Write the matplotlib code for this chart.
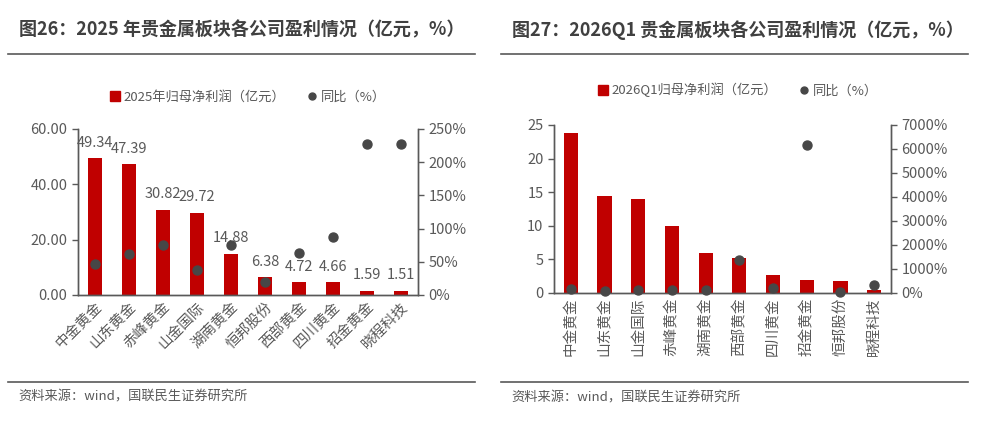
import matplotlib
matplotlib.use("Agg")
import matplotlib.pyplot as plt
from matplotlib.lines import Line2D
from matplotlib.ticker import FuncFormatter, FormatStrFormatter

plt.rcParams['font.family'] = ['Noto Sans CJK SC', 'DejaVu Sans']

# ---- data ----
companies_2025 = ["中金黄金", "山东黄金", "赤峰黄金", "山金国际", "湖南黄金",
                  "恒邦股份", "西部黄金", "四川黄金", "招金黄金", "晓程科技"]
profit_2025 = [49.34, 47.39, 30.82, 29.72, 14.88, 6.38, 4.72, 4.66, 1.59, 1.51]
yoy_2025 = [46, 61, 76, 37, 76, 19, 64, 88, 227, 227]

companies_2026q1 = ["中金黄金", "山东黄金", "山金国际", "赤峰黄金", "湖南黄金",
                    "西部黄金", "四川黄金", "招金黄金", "恒邦股份", "晓程科技"]
profit_2026q1 = [23.8, 14.4, 14.0, 10.0, 5.95, 5.2, 2.68, 1.93, 1.79, 0.45]
yoy_2026q1 = [167, 83, 125, 125, 125, 1360, 194, 6150, 56, 333]

RED = "#C00000"
DOT = "#474747"
TXT = "#595959"
SPINE = "#595959"

W, H = 992, 426
fig = plt.figure(figsize=(W / 100, H / 100), dpi=100)


def fx(px):
    return px / W


def fy(py):
    return 1 - py / H


def hline(x0, x1, y):
    fig.add_artist(Line2D([fx(x0), fx(x1)], [fy(y), fy(y)], color="#595959", lw=1.2,
                          transform=fig.transFigure))


def style_axes(ax, ax2):
    for a in (ax, ax2):
        a.spines['top'].set_visible(False)
        for s in ('left', 'right', 'bottom'):
            a.spines[s].set_color(SPINE)
            a.spines[s].set_linewidth(1.0)
        a.tick_params(colors=TXT, labelsize=10.5, length=4, width=1.0)
    ax.tick_params(axis='y', color=SPINE)
    ax2.tick_params(axis='y', color=SPINE)
    ax.tick_params(axis='x', length=0)
    ax.patch.set_visible(False)


# ---------- Left panel ----------
fig.text(fx(19), fy(30), "图26：2025 年贵金属板块各公司盈利情况（亿元，%）",
         fontsize=13.0, fontweight='bold', color="#404040", va='center', ha='left')
hline(8, 475, 54)
hline(8, 475, 382)
fig.text(fx(18), fy(397), "资料来源：wind，国联民生证券研究所", fontsize=9.5,
         color=TXT, va='center', ha='left')

axL = fig.add_axes([fx(78), fy(295), fx(418) - fx(78), fy(129) - fy(295)])
axL2 = axL.twinx()
axL.set_zorder(axL2.get_zorder() - 1)
axL2.patch.set_visible(False)
xs = range(len(companies_2025))
axL.bar(xs, profit_2025, width=0.42, color=RED)
for x, v in zip(xs, profit_2025):
    axL.annotate(f"{v:.2f}", (x, v), xytext=(0, 6), textcoords='offset points',
                 ha='center', va='bottom', fontsize=10.5, color=TXT)
axL2.scatter(xs, yoy_2025, s=42, color=DOT, zorder=3)
axL.set_ylim(0, 60)
axL.set_yticks([0, 20, 40, 60])
axL.yaxis.set_major_formatter(FormatStrFormatter("%.2f"))
axL2.set_ylim(0, 250)
axL2.set_yticks([0, 50, 100, 150, 200, 250])
axL2.yaxis.set_major_formatter(FuncFormatter(lambda v, p: f"{v:.0f}%"))
axL.set_xlim(-0.5, len(companies_2025) - 0.5)
axL.set_xticks(list(xs))
axL.set_xticklabels(companies_2025, rotation=45, ha='right', va='top',
                    rotation_mode='anchor', fontsize=10.5, color=TXT)
style_axes(axL, axL2)

hL = [Line2D([], [], marker='s', color=RED, linestyle='None', markersize=7),
      Line2D([], [], marker='o', color=DOT, linestyle='None', markersize=5)]
fig.legend(hL, ["2025年归母净利润（亿元）", "同比（%）"], loc='center',
           bbox_to_anchor=(fx(247), fy(97)), ncol=2, frameon=False, fontsize=9.5,
           labelcolor=TXT, handletextpad=0.1, columnspacing=1.6, handlelength=1.0)

# ---------- Right panel ----------
fig.text(fx(512), fy(30), "图27：2026Q1 贵金属板块各公司盈利情况（亿元，%）",
         fontsize=13.0, fontweight='bold', color="#404040", va='center', ha='left')
hline(501, 968, 54)
hline(501, 968, 382)
fig.text(fx(511), fy(398), "资料来源：wind，国联民生证券研究所", fontsize=9.5,
         color=TXT, va='center', ha='left')

axR = fig.add_axes([fx(554), fy(293), fx(891) - fx(554), fy(125) - fy(293)])
axR2 = axR.twinx()
axR.set_zorder(axR2.get_zorder() - 1)
axR2.patch.set_visible(False)
xs2 = range(len(companies_2026q1))
axR.bar(xs2, profit_2026q1, width=0.42, color=RED)
axR2.scatter(xs2, yoy_2026q1, s=42, color=DOT, zorder=3, clip_on=False)
axR.set_ylim(0, 25)
axR.set_yticks([0, 5, 10, 15, 20, 25])
axR2.set_ylim(0, 7000)
axR2.set_yticks(range(0, 7001, 1000))
axR2.yaxis.set_major_formatter(FuncFormatter(lambda v, p: f"{v:.0f}%"))
axR.set_xlim(-0.5, len(companies_2026q1) - 0.5)
axR.set_xticks(list(xs2))
axR.set_xticklabels(companies_2026q1, rotation=90, ha='center', va='top',
                    fontsize=10.5, color=TXT)
style_axes(axR, axR2)

hR = [Line2D([], [], marker='s', color=RED, linestyle='None', markersize=7),
      Line2D([], [], marker='o', color=DOT, linestyle='None', markersize=5)]
fig.legend(hR, ["2026Q1归母净利润（亿元）", "同比（%）"], loc='center',
           bbox_to_anchor=(fx(737), fy(90)), ncol=2, frameon=False, fontsize=9.5,
           labelcolor=TXT, handletextpad=0.1, columnspacing=1.6, handlelength=1.0)

fig.savefig("out.png", dpi=100)
